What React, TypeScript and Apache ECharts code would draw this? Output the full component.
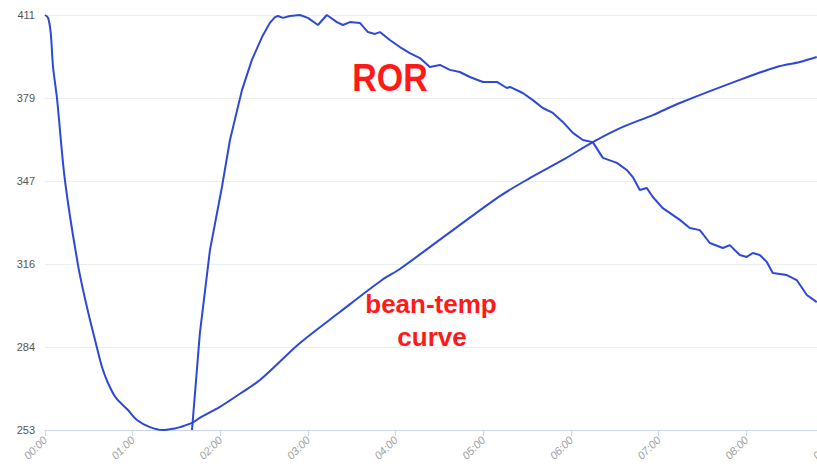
import React, { useEffect, useRef } from "react";
import * as echarts from "echarts";

// seconds since start
const beanTime = [0, 2.1, 3.9, 5.5, 8.2, 13.7, 22.6, 28.7, 35.6, 39.0, 43.1, 48.6, 56.8, 62.9, 71.8, 80.7, 88.9, 92.4, 100.6, 106, 119.7, 133.4, 147.1, 174.5, 201.8, 230.6, 242.9, 309.3, 331.8, 354.4, 374.9, 395.5, 416, 434.5, 475.5, 500.8, 516.6, 528.2];
const beanTemp = [411, 409.9, 404.3, 391.3, 379.3, 347.8, 315.8, 299.8, 284.2, 277.0, 270.9, 265.2, 260.6, 256.8, 254.1, 253.0, 253.6, 254.1, 255.7, 257.6, 261.8, 266.8, 272.0, 286.1, 297.9, 310.1, 314.3, 341.3, 348.9, 355.8, 362.6, 368.4, 372.9, 377.5, 386.3, 391.2, 393.1, 395.0];

const rorTime = [100.6, 106.0, 112.9, 121.1, 126.6, 134.8, 141.6, 148.5, 153.9, 157.4, 159.4, 162.8, 167.6, 174.5, 179.9, 186.8, 192.9, 199.8, 203.9, 208.7, 215.5, 221, 225.8, 229.2, 236, 242.9, 249.7, 256.6, 263.4, 270.3, 277.1, 283.9, 290.8, 299.7, 309.3, 316.1, 318.2, 327, 333.9, 340.7, 347.6, 354.4, 361.3, 368.1, 374.9, 381.8, 391.4, 398.2, 402.3, 407.1, 411.9, 416, 422.8, 434.5, 441.3, 448.2, 455, 463.9, 468.7, 475.5, 480.3, 484.4, 489.2, 494, 498.1, 507.7, 514.5, 521.4, 528.2];
const rorValue = [253.0, 289.9, 321.5, 345.5, 363.4, 382.4, 393.9, 402.6, 408.0, 410.2, 410.6, 409.9, 410.6, 411.0, 409.9, 407.2, 411.0, 408.3, 407.2, 408.3, 408.0, 404.5, 403.8, 404.5, 401.5, 398.8, 396.5, 394.6, 391.2, 392.0, 390.1, 389.3, 387.4, 385.5, 385.5, 383.2, 383.6, 381.3, 378.6, 375.6, 373.7, 370.3, 366.1, 363.4, 362.6, 356.6, 354.7, 352.0, 349.3, 344.4, 345.1, 341.7, 337.5, 333.0, 329.9, 329.1, 324.2, 322.3, 323.4, 319.6, 318.9, 320.4, 319.6, 317.0, 312.8, 312.0, 310.1, 304.4, 301.7];

const Y_MIN = 253;
const Y_MAX = 411;
const Y_STEP = 31.6;
const X_MAX = 540;
const X_STEP = 60;

const LINE_COLOR = "#2e48d6";

function fmtTime(v: number): string {
  const m = Math.floor(v / 60);
  const s = Math.round(v % 60);
  return String(m).padStart(2, "0") + ":" + String(s).padStart(2, "0");
}

export default function App() {
  const ref = useRef<HTMLDivElement>(null);
  useEffect(() => {
    if (!ref.current) return;
    const chart = echarts.init(ref.current, undefined, { renderer: "svg" });
    const beanData = beanTime.map((t, i) => [t, beanTemp[i] - Y_MIN]);
    const rorData = rorTime.map((t, i) => [t, rorValue[i] - Y_MIN]);
    chart.setOption({
      animation: false,
      backgroundColor: "#ffffff",
      grid: { left: 45, right: 17, top: 15, bottom: 36, containLabel: false },
      xAxis: {
        type: "value",
        min: 0,
        max: X_MAX,
        interval: X_STEP,
        axisLine: { show: true, lineStyle: { color: "#ccd6eb", width: 1 } },
        axisTick: { show: true, length: 6, lineStyle: { color: "#ccd6eb" } },
        splitLine: { show: false },
        axisLabel: {
          rotate: 45,
          color: "#a0a0a0",
          fontSize: 11,
          fontStyle: "italic",
          fontFamily: "Liberation Sans, Arial, sans-serif",
          margin: 8,
          formatter: (v: number) => fmtTime(v),
        },
      },
      yAxis: {
        type: "value",
        min: 0,
        max: Y_MAX - Y_MIN,
        interval: Y_STEP,
        axisLine: { show: false },
        axisTick: { show: false },
        splitLine: { show: true, lineStyle: { color: "#e9eef0", width: 1 } },
        axisLabel: {
          color: "#555555",
          fontSize: 11,
          fontFamily: "Liberation Sans, Arial, sans-serif",
          margin: 10,
          formatter: (v: number) => String(Math.floor(v + Y_MIN + 1e-6)),
        },
      },
      series: [
        {
          name: "bean-temp",
          type: "line",
          data: beanData,
          smooth: 0.3,
          showSymbol: false,
          lineStyle: { color: LINE_COLOR, width: 2 },
        },
        {
          name: "ROR",
          type: "line",
          data: rorData,
          showSymbol: false,
          lineStyle: { color: LINE_COLOR, width: 2 },
        },
      ],
      graphic: [
        {
          type: "text",
          x: 390,
          y: 78,
          scaleY: 1.15,
          style: {
            text: "ROR",
            fill: "#ff1a1a",
            font: "bold 34px 'Liberation Sans', Arial, sans-serif",
            align: "center",
            verticalAlign: "middle",
          },
        },
        {
          type: "text",
          x: 431,
          y: 304,
          style: {
            text: "bean-temp",
            fill: "#ff1a1a",
            font: "bold 26px 'Liberation Sans', Arial, sans-serif",
            align: "center",
            verticalAlign: "middle",
          },
        },
        {
          type: "text",
          x: 432,
          y: 337,
          style: {
            text: "curve",
            fill: "#ff1a1a",
            font: "bold 26px 'Liberation Sans', Arial, sans-serif",
            align: "center",
            verticalAlign: "middle",
          },
        },
      ],
    });
    return () => chart.dispose();
  }, []);
  return (
    <div
      style={{
        position: "fixed",
        left: 0,
        top: 0,
        width: 817,
        height: 466,
        overflow: "hidden",
        background: "#ffffff",
      }}
    >
      <div ref={ref} style={{ width: 851, height: 466 }} />
    </div>
  );
}
